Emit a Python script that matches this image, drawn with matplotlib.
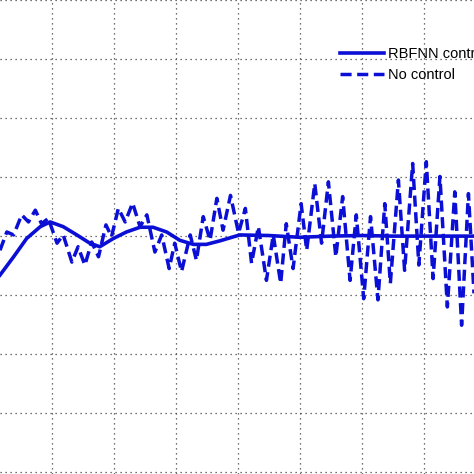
import matplotlib
matplotlib.use("Agg")
import matplotlib.pyplot as plt

# RBFNN control (solid)
t_rbf = [-0.84, -0.62, -0.41, -0.19, -0.03, 0.18, 0.40, 0.61, 0.77, 0.99, 1.20, 1.42, 1.63,
         1.85, 2.06, 2.28, 2.49, 2.71, 3.03, 3.5, 4.0, 4.5, 5.0, 5.5, 6.0, 6.5, 6.85]
y_rbf = [-0.66, -0.35, -0.04, 0.16, 0.24, 0.16, 0.02, -0.12, -0.18, -0.04, 0.07, 0.15, 0.15,
         0.07, -0.07, -0.14, -0.14, -0.08, 0.02, 0.01, -0.02, 0.0, 0.01, 0.0, 0.0, 0.0, 0.0]

# No control (dashed)
t_nc = [-0.84, -0.73, -0.62, -0.49, -0.38, -0.27, -0.17, -0.06, 0.08, 0.18, 0.32, 0.42, 0.53,
        0.64, 0.75, 0.87, 0.96, 1.07, 1.18, 1.30, 1.42, 1.53, 1.66, 1.77, 1.89, 1.98, 2.09,
        2.23, 2.33, 2.44, 2.55, 2.66, 2.76, 2.88, 3.01, 3.12, 3.22, 3.33, 3.46, 3.57, 3.69,
        3.78, 3.89, 4.02, 4.11, 4.24, 4.35, 4.46, 4.58, 4.69, 4.81, 4.91, 5.03, 5.14, 5.26,
        5.37, 5.46, 5.59, 5.69, 5.82, 5.92, 6.04, 6.15, 6.26, 6.38, 6.50, 6.61, 6.72, 6.81]
y_nc = [-0.24, 0.07, 0.02, 0.36, 0.24, 0.44, 0.21, 0.30, -0.12, 0.02, -0.44, -0.18, -0.49,
        -0.10, -0.35, 0.19, -0.01, 0.47, 0.24, 0.56, 0.16, 0.36, -0.27, 0.02, -0.55, -0.12,
        -0.60, 0.02, -0.41, 0.33, -0.07, 0.64, 0.10, 0.69, 0.05, 0.47, -0.46, 0.16, -0.75,
        0.02, -0.80, 0.21, -0.55, 0.55, -0.24, 0.89, -0.12, 0.92, -0.35, 0.67, -0.75, 0.36,
        -1.06, 0.33, -1.08, 0.55, -0.80, 0.95, -0.58, 1.23, -0.49, 1.26, -0.72, 1.01, -1.20,
        0.75, -1.51, 0.72, -0.97]

labels = ["RBFNN control", "No control"]
color = "#0b0fd6"

plt.rcParams['font.family'] = ['Liberation Sans', 'DejaVu Sans']
fig = plt.figure(figsize=(4.74, 4.74), dpi=100)
ax = fig.add_axes([0, 0, 1, 1])
ax.plot(t_rbf, y_rbf, color=color, lw=2.6, label=labels[0])
ax.plot(t_nc, y_nc, color=color, lw=2.5, ls=(0, (3.2, 1.6)), label=labels[1])
ax.set_xlim(-0.84, 6.81)
ax.set_ylim(-4.03, 4.0)
ax.set_xticks(range(0, 7))
ax.set_yticks(range(-4, 5))
ax.grid(True, color="#444444", ls=(0, (1, 3)), lw=0.9)
for s in ax.spines.values():
    s.set_visible(False)
ax.tick_params(length=0, labelbottom=False, labelleft=False)
leg = ax.legend(loc="upper left", bbox_to_anchor=(327 / 474, 1 - 34 / 474),
                bbox_transform=fig.transFigure, frameon=False, fontsize=10.5,
                handlelength=3.0, handletextpad=0.3, labelspacing=0.45)
fig.savefig("out.png", dpi=100)
